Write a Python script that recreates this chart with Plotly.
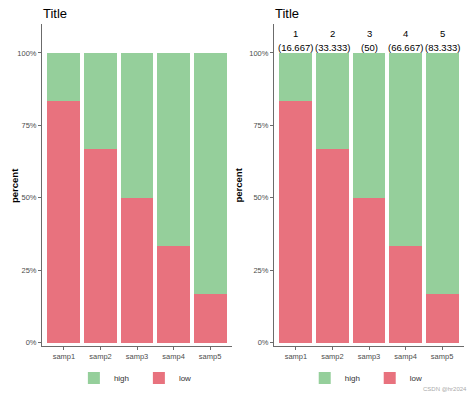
import plotly.graph_objects as go

samples = ["samp1", "samp2", "samp3", "samp4", "samp5"]
low = [0.83333, 0.66667, 0.5, 0.33333, 0.16667]
high = [0.16667, 0.33333, 0.5, 0.66667, 0.83333]
top_labels = ["1", "2", "3", "4", "5"]
pct_labels = ["(16.667)", "(33.333)", "(50)", "(66.667)", "(83.333)"]
y_ticks = [0, 0.25, 0.5, 0.75, 1.0]
y_ticktext = ["0%", "25%", "50%", "75%", "100%"]

GREEN = "#95CF9B"
RED = "#E8727E"
FONT = "Arial, Liberation Sans, sans-serif"

fig = go.Figure()
for i, (xa, ya, lg) in enumerate([("x", "y", "legend"), ("x2", "y2", "legend2")]):
    fig.add_trace(go.Bar(x=samples, y=low, name="low", marker=dict(color=RED, line=dict(width=0)),
                         xaxis=xa, yaxis=ya, legend=lg, width=0.9))
    fig.add_trace(go.Bar(x=samples, y=high, name="high", marker=dict(color=GREEN, line=dict(width=0)),
                         xaxis=xa, yaxis=ya, legend=lg, width=0.9))

axis_common = dict(showline=True, linecolor="#6b6b6b", linewidth=1, ticks="outside", ticklen=3,
                   tickcolor="#6b6b6b", showgrid=False, zeroline=False,
                   tickfont=dict(family=FONT, size=7.5, color="#4D4D4D"))

fig.update_layout(
    width=474, height=398, margin=dict(l=0, r=0, t=0, b=0),
    paper_bgcolor="white", plot_bgcolor="white", barmode="stack", bargap=0.1,
    font=dict(family=FONT),
    xaxis=dict(domain=[0.0886, 0.4895], range=[-0.6, 4.6], anchor="y", **axis_common),
    xaxis2=dict(domain=[0.578, 0.979], range=[-0.6, 4.6], anchor="y2", **axis_common),
    yaxis=dict(domain=[0.1307, 0.9397], range=[-0.012, 1.1], anchor="x", tickvals=y_ticks,
               ticktext=y_ticktext, **axis_common),
    yaxis2=dict(domain=[0.1307, 0.9397], range=[-0.012, 1.1], anchor="x2", tickvals=y_ticks,
                ticktext=y_ticktext, **axis_common),
    legend=dict(orientation="h", x=0.293, y=0.05, xanchor="center", yanchor="middle",
                traceorder="reversed", font=dict(family=FONT, size=8, color="#333"), itemwidth=30,
                entrywidth=20, entrywidthmode="pixels"),
    legend2=dict(orientation="h", x=0.78, y=0.05, xanchor="center", yanchor="middle",
                 traceorder="reversed", font=dict(family=FONT, size=8, color="#333"), itemwidth=30,
                 entrywidth=20, entrywidthmode="pixels"),
)

for xa, ya, xpos in [("x", "y", 0.0886), ("x2", "y2", 0.578)]:
    fig.add_annotation(text="<b>percent</b>", textangle=-90, xref="paper", yref="paper",
                       x=xpos - 0.075, y=0.535, showarrow=False,
                       font=dict(family=FONT, size=9.5, color="black"))
    fig.add_annotation(text="Title", xref="paper", yref="paper", x=xpos - 0.002, y=0.965,
                       xanchor="left", yanchor="middle", showarrow=False,
                       font=dict(family=FONT, size=13, color="black"))

for s, t, p in zip(samples, top_labels, pct_labels):
    fig.add_annotation(text=t, x=s, y=1.066, xref="x2", yref="y2", showarrow=False,
                       font=dict(family=FONT, size=9.5, color="black"))
    fig.add_annotation(text=p, x=s, y=1.02, xref="x2", yref="y2", showarrow=False,
                       font=dict(family=FONT, size=9.5, color="black"))

fig.add_annotation(text="CSDN @hr2024", xref="paper", yref="paper", x=0.99, y=0.01,
                   xanchor="right", yanchor="bottom", showarrow=False,
                   font=dict(family=FONT, size=6, color="#aaaaaa"))

fig.write_html("out.html", config={"displayModeBar": False},
               post_script="document.body.style.margin='0';document.body.style.overflow='hidden';")
